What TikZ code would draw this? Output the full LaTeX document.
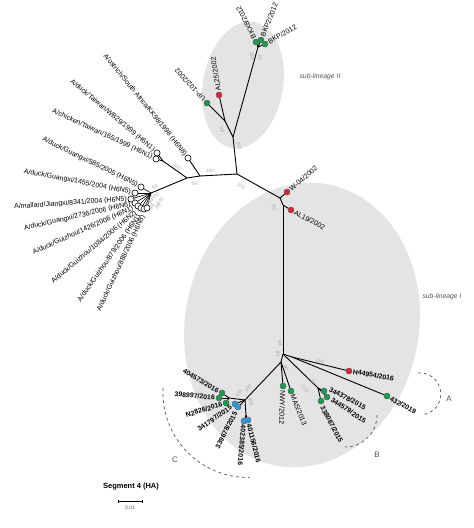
\documentclass[tikz,border=0pt]{standalone}
\usepackage{fontspec}
\setmainfont{Liberation Sans}
\usetikzlibrary{calc}
\definecolor{cR}{HTML}{D7283A}
\definecolor{cG}{HTML}{1E9A4E}
\definecolor{cB}{HTML}{2E9AD8}
\definecolor{paleg}{HTML}{E4E4E6}
\definecolor{bsc}{HTML}{A8A8A8}
\definecolor{dk}{HTML}{555555}
\begin{document}
\begin{tikzpicture}[x=1pt,y=1pt,
 br/.style={line width=0.9pt, black},
 lf/.style={circle, draw=black, line width=0.5pt, fill=white, inner sep=0pt, minimum size=6pt},
 lr/.style={circle, draw=black!60, line width=0.3pt, fill=cR, inner sep=0pt, minimum size=6pt},
 lg/.style={circle, draw=black!60, line width=0.3pt, fill=cG, inner sep=0pt, minimum size=6pt},
 lb/.style={circle, draw=black!60, line width=0.3pt, fill=cB, inner sep=0pt, minimum size=6pt},
 lab/.style={font=\fontsize{7}{7}\selectfont, inner sep=0.5pt},
 blab/.style={font=\bfseries\fontsize{6.9}{7}\selectfont, inner sep=0.5pt},
 bs/.style={font=\fontsize{5}{5}\selectfont, text=bsc, inner sep=0pt},
 grp/.style={dashed, line width=0.7pt, dk},
 grl/.style={font=\fontsize{8}{8}\selectfont, text=dk},
 sublab/.style={font=\itshape\fontsize{6.8}{7}\selectfont, text=dk},
]
\useasboundingbox (0,0) rectangle (474,-528);
% shaded sub-lineages
\fill[paleg, rotate around={-10:(243,-85)}] (243,-85) ellipse[x radius=40, y radius=64];
\fill[paleg, rotate around={-10:(302,-325)}] (302,-325) ellipse[x radius=117, y radius=143];
\node[sublab] (s2) at (320,-77) {sub-lineage II};
\node[sublab] (s1) at (442,-297) {sub-lineage I};

% junctions
\coordinate (K) at (237,-174);
\coordinate (S2j) at (233,-137);
\coordinate (BKj) at (258,-47);
\coordinate (UPj) at (225,-121);
\coordinate (L1) at (200,-176);
\coordinate (L2) at (187,-178);
\coordinate (Tj) at (163,-161);
\coordinate (F) at (151,-193);
\coordinate (M1) at (280,-198);
\coordinate (M2) at (283,-205);
\coordinate (J1) at (283,-354);
\coordinate (JA) at (292,-357);
\coordinate (JB) at (318,-388);
\coordinate (J2) at (281,-362);
\coordinate (JC) at (245,-400);
\coordinate (JCg) at (229,-398);
\coordinate (JCd) at (246,-415);

% leaves
\node[lg] (gBK1) at (256,-42) {};
\node[lg] (gBK2) at (261,-40) {};
\node[lg] (gBK3) at (265,-44) {};
\node[lg] (gUP) at (207,-103) {};
\node[lr] (rAL25) at (219,-95) {};
\node[lf] (oKK) at (188,-158) {};
\node[lf] (oT1) at (157,-153) {};
\node[lf] (oT2) at (156,-159) {};
\node[lf] (o585) at (141,-187) {};
\node[lf] (o1455) at (135,-193) {};
\node[lf] (oJX) at (131,-199) {};
\node[lf] (o2736) at (135,-203) {};
\node[lf] (o1426) at (138,-206) {};
\node[lf] (o1084) at (141,-208) {};
\node[lf] (o879) at (144,-209) {};
\node[lf] (o888) at (147,-208) {};
\node[lr] (rW) at (287,-192) {};
\node[lr] (rAL19) at (291,-210) {};
\node[lr] (rH) at (349,-371) {};
\node[lg] (g432) at (387,-396) {};
\node[lg] (gB1) at (324,-391) {};
\node[lg] (gB2) at (327,-397) {};
\node[lg] (gB3) at (321,-401) {};
\node[lg] (gNWY) at (283,-386) {};
\node[lg] (gMAS) at (291,-391) {};
\node[lg] (gC1) at (222,-393) {};
\node[lg] (gC2) at (219,-398) {};
\node[lg] (gC3) at (226,-403) {};
\node[lb] (bC1) at (235,-404) {};
\node[lb] (bC2) at (238,-407) {};
\node[lb] (bC3) at (244,-421) {};
\node[lb] (bC4) at (248,-420) {};

% branches
\draw[br] (K) -- (S2j);
\draw[br] (S2j) -- (BKj);
\draw[br] (BKj) -- (gBK1); \draw[br] (BKj) -- (gBK2); \draw[br] (BKj) -- (gBK3);
\draw[br] (S2j) -- (UPj);
\draw[br] (UPj) -- (gUP); \draw[br] (UPj) -- (rAL25);
\draw[br] (K) -- (L1);
\draw[br] (L1) -- (oKK);
\draw[br] (L1) -- (L2);
\draw[br] (L2) -- (Tj);
\draw[br] (Tj) -- (oT1); \draw[br] (Tj) -- (oT2);
\draw[br] (L2) -- (F);
\foreach \n in {o585,o1455,oJX,o2736,o1426,o1084,o879,o888} {\draw[br, line width=0.6pt] (F) -- (\n);}
\draw[br] (K) -- (M1);
\draw[br] (M1) -- (rW);
\draw[br] (M1) -- (M2);
\draw[br] (M2) -- (rAL19);
\draw[br] (M2) -- (J1);
\draw[br] (J1) -- (JA);
\draw[br] (JA) -- (rH); \draw[br] (JA) -- (g432);
\draw[br] (J1) -- (JB);
\draw[br] (JB) -- (gB1); \draw[br] (JB) -- (gB2); \draw[br] (JB) -- (gB3);
\draw[br] (J1) -- (J2);
\draw[br] (J2) -- (gNWY); \draw[br] (J2) -- (gMAS);
\draw[br] (J2) -- (JC);
\draw[br] (JC) -- (JCg);
\draw[br] (JCg) -- (gC1); \draw[br] (JCg) -- (gC2); \draw[br] (JCg) -- (gC3);
\draw[br] (JC) -- (bC1); \draw[br] (JC) -- (bC2);
\draw[br] (JC) -- (JCd);
\draw[br] (JCd) -- (bC3); \draw[br] (JCd) -- (bC4);
% redraw leaves on top
\foreach \n/\s in {gBK1/lg,gBK2/lg,gBK3/lg,gUP/lg,rAL25/lr,oKK/lf,oT1/lf,oT2/lf,o585/lf,o1455/lf,oJX/lf,o2736/lf,o1426/lf,o1084/lf,o879/lf,o888/lf,rW/lr,rAL19/lr,rH/lr,g432/lg,gB1/lg,gB2/lg,gB3/lg,gNWY/lg,gMAS/lg,gC1/lg,gC2/lg,gC3/lg,bC1/lb,bC2/lb,bC3/lb,bC4/lb}
  {\node[\s] at (\n) {};}

% labels sub-lineage II
\node[lab, anchor=west, rotate=117] (tBKX) at ($(gBK1)+(117:3.5)$) {BKX8/2012};
\node[lab, anchor=west, rotate=68] (tBKP2) at ($(gBK2)+(68:3.5)$) {BKP2/2012};
\node[lab, anchor=west, rotate=30] (tBKP) at ($(gBK3)+(30:3.5)$) {BKP/2012};
\node[lab, anchor=west, rotate=133] (tUP) at ($(gUP)+(133:3.5)$) {UP-102/2002};
\node[lab, anchor=west, rotate=99] (tAL25) at ($(rAL25)+(99:3.5)$) {AL25/2002};

% labels H6 outgroup (text ends at leaf)
\node[lab, anchor=east, rotate=-51] (tKK) at ($(oKK)+(129:3.5)$) {A/ostrich/South Africa/KK98/1998 (H6N8)};
\node[lab, anchor=east, rotate=-40] (tT1) at ($(oT1)+(140:3.5)$) {A/duck/Taiwan/WB29/1999 (H6N1)};
\node[lab, anchor=east, rotate=-25] (tT2) at ($(oT2)+(155:3.5)$) {A/chicken/Taiwan/165/1999 (H6N1)};
\node[lab, anchor=east, rotate=-26] (t585) at ($(o585)+(154:3.5)$) {A/duck/Guangxi/585/2005 (H6N5)};
\node[lab, anchor=east, rotate=-11] (t1455) at ($(o1455)+(169:3.5)$) {A/duck/Guangxi/1455/2004 (H6N5)};
\node[lab, anchor=east, rotate=4] (tJX) at ($(oJX)+(184:3.5)$) {A/mallard/Jiangxi/8341/2004 (H6N5)};
\node[lab, anchor=east, rotate=13] (t2736) at ($(o2736)+(193:4)$) {A/duck/Guangxi/2736/2006 (H6N6)};
\node[lab, anchor=east, rotate=24] (t1426) at ($(o1426)+(204:5)$) {A/duck/Guizhou/1426/2006 (H6N1)};
\node[lab, anchor=east, rotate=40] (t1084) at ($(o1084)+(220:6)$) {A/duck/Guizhou/1084/2006 (H6N2)};
\node[lab, anchor=east, rotate=55] (t879) at ($(o879)+(235:7)$) {A/duck/Guizhou/879/2006 (H6N1)};
\node[lab, anchor=east, rotate=65] (t888) at ($(o888)+(245:8)$) {A/duck/Guizhou/888/2006 (H6N5)};

% labels sub-lineage I
\node[lab, anchor=west, rotate=40] (tW) at ($(rW)+(40:3.5)$) {W-04/2002};
\node[lab, anchor=west, rotate=-28] (tAL19) at ($(rAL19)+(-28:3.5)$) {AL19/2002};
\node[blab, anchor=west, rotate=-10] (tH) at ($(rH)+(-10:3.5)$) {H44954/2016};
\node[blab, anchor=west, rotate=-30] (t432) at ($(g432)+(-30:3.5)$) {432/2019};
\node[blab, anchor=west, rotate=-27] (tB1) at (329,-389) {344378/2015};
\node[blab, anchor=west, rotate=-33] (tB2) at (331,-399) {344579/2015};
\node[blab, anchor=west, rotate=-62] (tB3) at (322,-406) {338087/2015};
\node[lab, anchor=west, rotate=-92] (tNWY) at ($(gNWY)+(-92:3.5)$) {NWY/2012};
\node[lab, anchor=west, rotate=-68] (tMAS) at ($(gMAS)+(-68:3.5)$) {MAS/2013};
\node[blab, anchor=east, rotate=-30] (tC1) at ($(gC1)+(150:3.5)$) {404573/2016};
\node[blab, anchor=east, rotate=-5] (tC2) at ($(gC2)+(175:3.5)$) {398997/2016};
\node[blab, anchor=east, rotate=17] (tC3) at ($(gC3)+(197:3.5)$) {N2826/2016};
\node[blab, anchor=east, rotate=35] (tbC1) at ($(bC1)+(215:4)$) {341797/2015};
\node[blab, anchor=east, rotate=63] (tbC2) at ($(bC2)+(243:5)$) {339678/2015};
\node[blab, anchor=west, rotate=-95] (tbC3) at ($(bC3)+(-95:3.5)$) {402385/2016};
\node[blab, anchor=west, rotate=-76] (tbC4) at ($(bC4)+(-76:3.5)$) {401156/2016};

% bootstrap values
\node[bs, rotate=-30] (b1) at (241,-186) {100};
\node[bs, rotate=-5] (b2) at (210,-171) {100};
\node[bs] (b3) at (195,-184) {94};
\node[bs, rotate=-30] (b4) at (177,-167) {100};
\node[bs, rotate=-80] (b5) at (239,-146) {100};
\node[bs, rotate=-70] (b6) at (222,-130) {98};
\node[bs, rotate=-80] (b7) at (252,-56) {100};
\node[bs, rotate=-70] (b8) at (260,-58) {42};
\node[bs, rotate=-70] (b9) at (274,-208) {85};
\node[bs, rotate=20] (b10) at (155,-187) {80};
\node[bs, rotate=30] (b11) at (155,-196) {100};
\node[bs, rotate=40] (b12) at (151,-201) {94};
\node[bs, rotate=40] (b13) at (160,-201) {100};
\node[bs, rotate=60] (b14) at (152,-207) {96};
\node[bs, rotate=40] (b15) at (158,-206) {98};
\node[bs, rotate=-80] (b16) at (280,-343) {98};
\node[bs, rotate=-80] (b17) at (278,-354) {82};
\node[bs, rotate=-20] (b18) at (320,-361) {100};
\node[bs, rotate=-60] (b19) at (286,-368) {40};
\node[bs, rotate=-50] (b20) at (314,-383) {90};
\node[bs, rotate=-50] (b21) at (305,-389) {100};
\node[bs, rotate=50] (b22) at (248,-388) {100};
\node[bs, rotate=50] (b23) at (239,-393) {100};
\node[bs, rotate=-80] (b24) at (251,-402) {100};

% group arcs
\draw[grp] (163,-388) arc[start angle=177, end angle=271, radius=85];
\draw[grp] (377,-415) arc[start angle=0, end angle=-90, radius=32];
\draw[grp] (418,-373) arc[start angle=95, end angle=-77, radius=21];
\node[grl] (gA) at (449,-399) {A};
\node[grl] (gB) at (377,-455) {B};
\node[grl] (gCc) at (175,-460) {C};

% title and scale
\node[font=\bfseries\fontsize{7.5}{8}\selectfont] (title) at (131,-487) {Segment 4 (HA)};
\coordinate (sb1) at (118,-501);
\coordinate (sb2) at (142,-501);
\draw[line width=0.5pt] (sb1) -- (sb2);
\draw[line width=0.5pt] ($(sb1)+(0,1.5)$) -- ($(sb1)+(0,-1.5)$);
\draw[line width=0.5pt] ($(sb2)+(0,1.5)$) -- ($(sb2)+(0,-1.5)$);
\node[font=\fontsize{5}{5}\selectfont, text=dk] (sbl) at (130,-508) {0.01};
\end{tikzpicture}
\end{document}
